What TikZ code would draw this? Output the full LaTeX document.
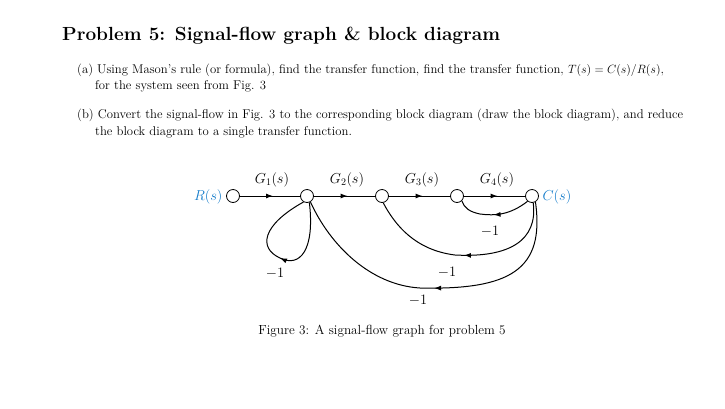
\documentclass[tikz,border=0pt]{standalone}
\usetikzlibrary{decorations.markings,arrows.meta}
\begin{document}
\begin{tikzpicture}[x=1pt,y=-1pt,
  nd/.style={circle,draw,line width=0.8pt,minimum size=13pt,inner sep=0pt,fill=white},
  br/.style={line width=1pt,postaction={decorate},decoration={markings,mark=at position #1 with {\arrow{Latex[length=7pt,width=5pt]}}}},
  br/.default=0.55,
  lb/.style={font=\fontsize{14}{16}\selectfont},
  io/.style={font=\fontsize{14}{16}\selectfont,text=cyan!60!blue},
  txt/.style={anchor=base west,inner sep=0pt,font=\fontsize{12.7}{15}\selectfont}]
\useasboundingbox (0,0) rectangle (725,408);
\node[anchor=base west,inner sep=0pt,font=\fontsize{19}{22}\selectfont\bfseries] (title) at (62,40) {Problem 5: Signal-flow graph \& block diagram};
\node[txt] (a1) at (77,73) {(a) Using Mason's rule (or formula), find the transfer function, find the transfer function, $T(s)=C(s)/R(s)$,};
\node[txt] (a2) at (95,89) {for the system seen from Fig. 3};
\node[txt] (b1) at (77,118) {(b) Convert the signal-flow in Fig. 3 to the corresponding block diagram (draw the block diagram), and reduce};
\node[txt] (b2) at (95,135) {the block diagram to a single transfer function.};
\node[txt,anchor=base,font=\fontsize{13.2}{15}\selectfont] (cap) at (382,334) {Figure 3: A signal-flow graph for problem 5};

\node[nd] (r) at (233,196) {};
\node[nd] (n1) at (307,196) {};
\node[nd] (n2) at (382,196) {};
\node[nd] (n3) at (457,196) {};
\node[nd] (c) at (532,196) {};
\node[io,anchor=east] (rl) at (226,197) {$R(s)$};
\node[io,anchor=west] (cl) at (539,197) {$C(s)$};

\draw[br] (r) -- (n1);
\draw[br] (n1) -- (n2);
\draw[br] (n2) -- (n3);
\draw[br] (n3) -- (c);
\node[lb] (g1) at (272,180) {$G_1(s)$};
\node[lb] (g2) at (347,180) {$G_2(s)$};
\node[lb] (g3) at (422,180) {$G_3(s)$};
\node[lb] (g4) at (497,180) {$G_4(s)$};

\draw[br=0.5] (n1.-70) .. controls (315,250) and (300,268) .. (280,258) .. controls (258,248) and (262,225) .. (n1.-120);
\draw[br=0.5] (c.-130) .. controls (510,215) and (495,216) .. (480,214) .. controls (470,212) and (464,208) .. (n3.-45);
\draw[br=0.5] (c.-80) .. controls (538,240) and (510,258) .. (455,255) .. controls (415,250) and (395,225) .. (n2.-80);
\draw[br=0.5] (c.-60) .. controls (545,270) and (510,290) .. (420,288) .. controls (370,285) and (330,245) .. (n1.-60);

\node[lb] (m1) at (275,273) {$-1$};
\node[lb] (m2) at (490,231) {$-1$};
\node[lb] (m3) at (447,272) {$-1$};
\node[lb] (m4) at (418,300) {$-1$};
\end{tikzpicture}
\end{document}
